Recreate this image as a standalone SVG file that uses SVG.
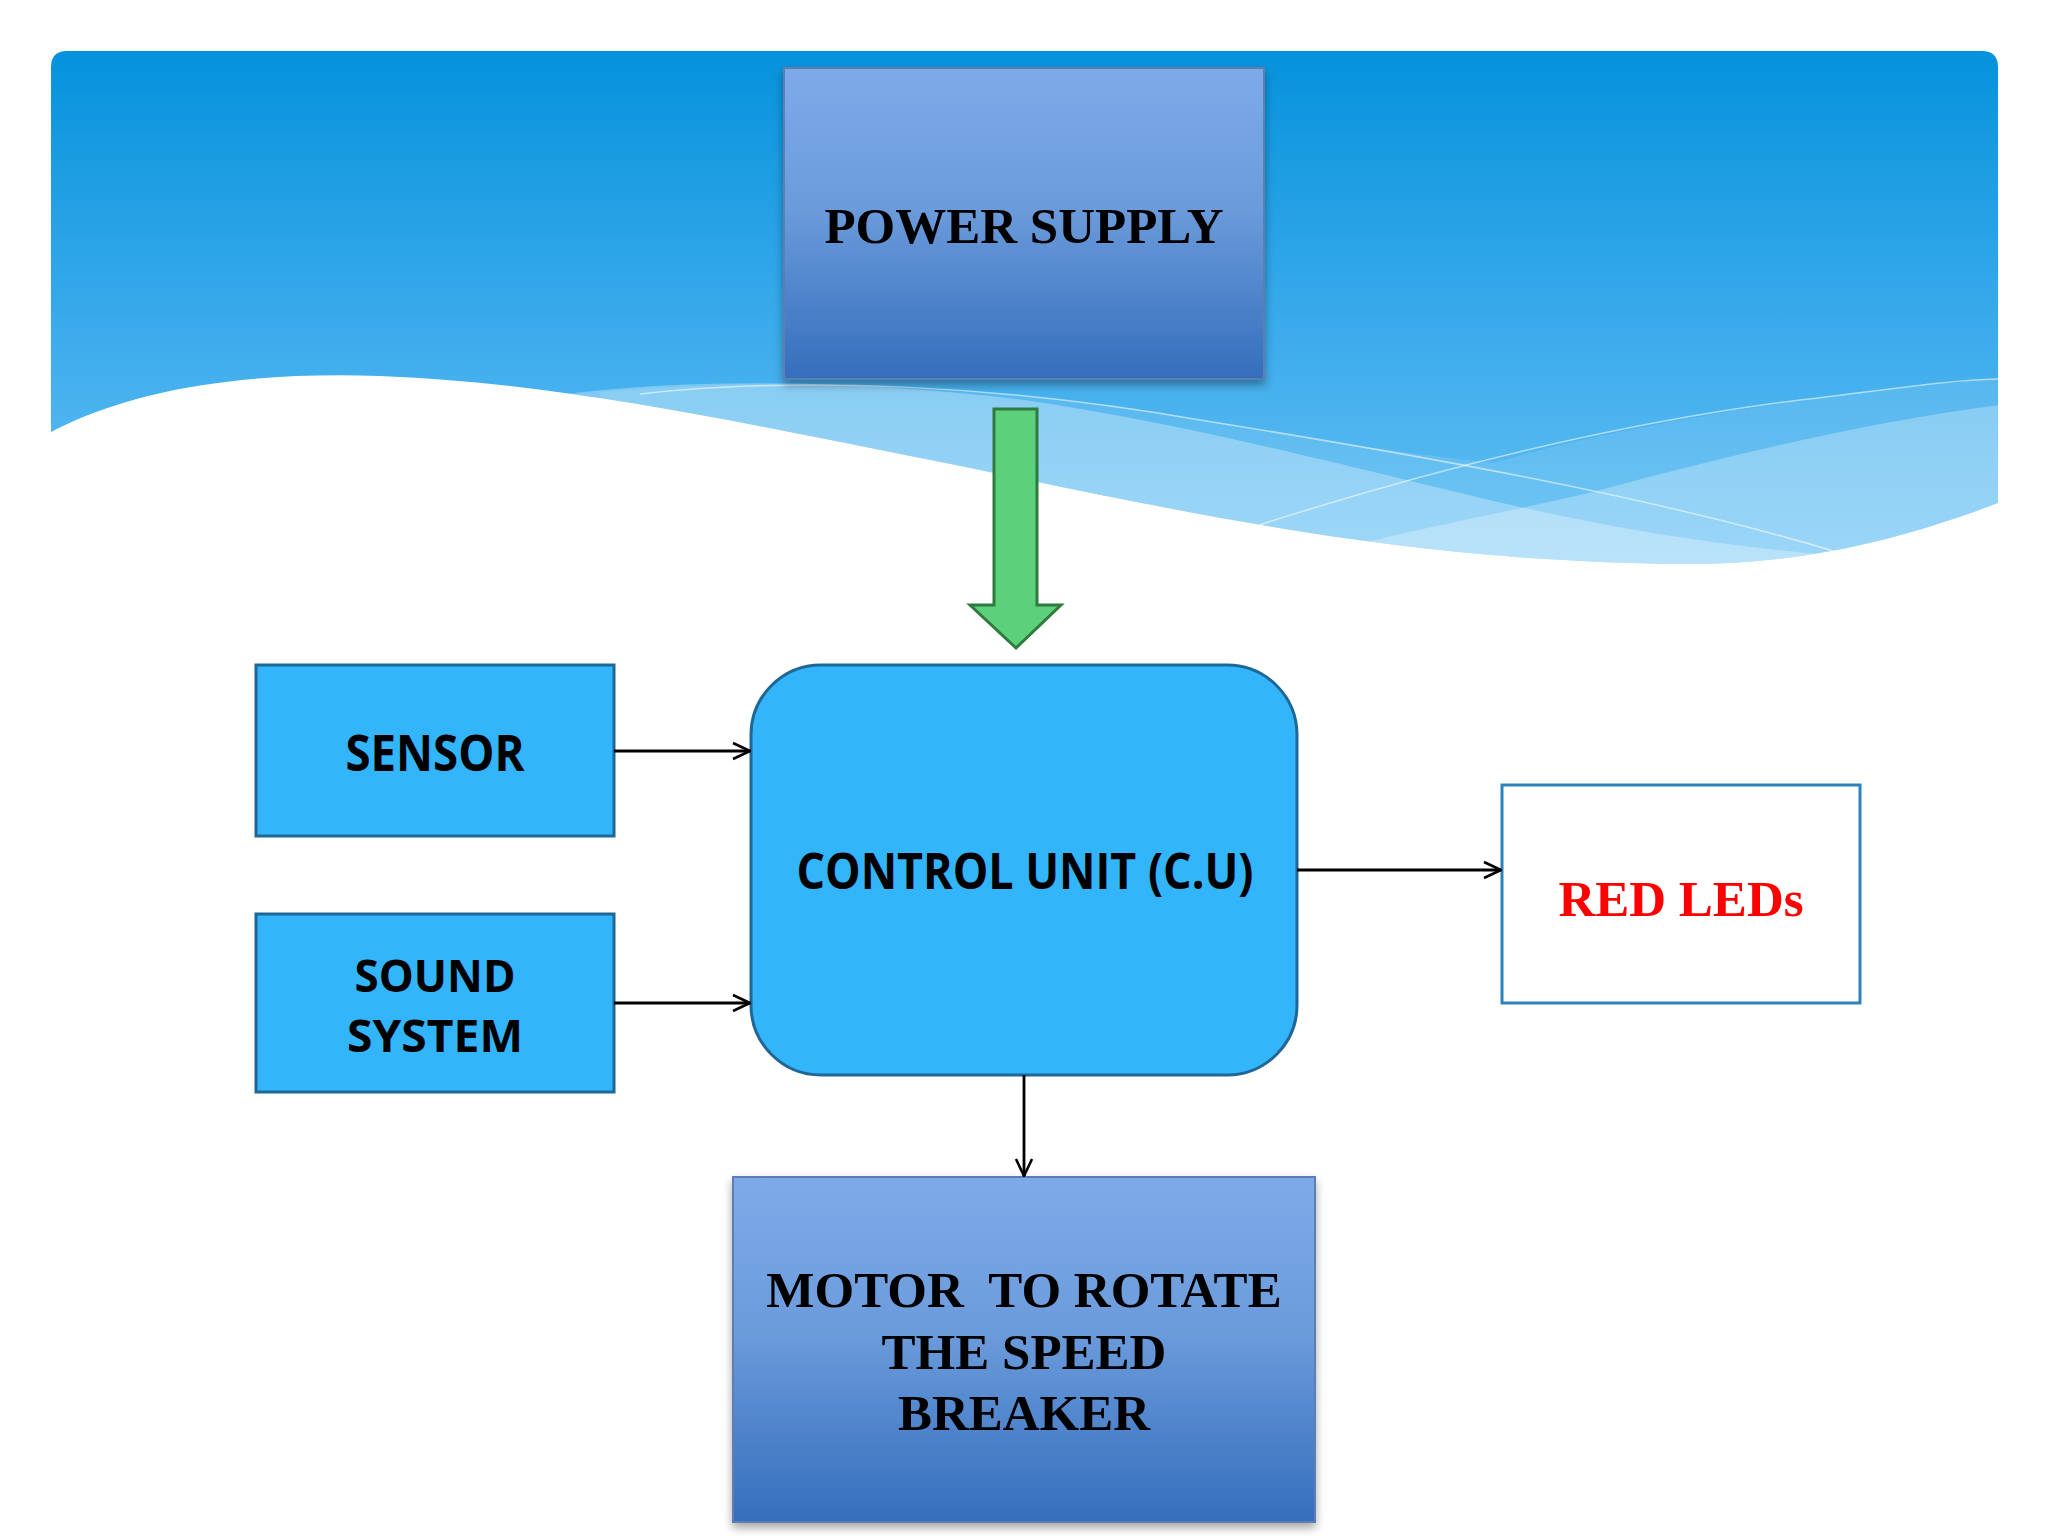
<svg xmlns="http://www.w3.org/2000/svg" width="2048" height="1536" viewBox="0 0 2048 1536">
  <defs>
    <linearGradient id="sky" x1="0" y1="51" x2="0" y2="565" gradientUnits="userSpaceOnUse">
      <stop offset="0" stop-color="#0592dc"/>
      <stop offset="0.5" stop-color="#37a9eb"/>
      <stop offset="1" stop-color="#66c1f4"/>
    </linearGradient>
    <linearGradient id="boxgrad" x1="0" y1="0" x2="0" y2="1">
      <stop offset="0" stop-color="#7eaae9"/>
      <stop offset="0.45" stop-color="#6b9bdb"/>
      <stop offset="1" stop-color="#356ebd"/>
    </linearGradient>
    <clipPath id="bannerClip">
      <path d="M67,51 L1982,51 Q1998,51 1998,67 L1998,503 C1900,540 1800,566 1672,564 C1400,560 1200,515 980,470 C760,426 560,382 379,376 C260,372 140,385 51,432 L51,67 Q51,51 67,51 Z"/>
    </clipPath>
    <filter id="shadow" x="-10%" y="-10%" width="120%" height="125%">
      <feDropShadow dx="0" dy="5" stdDeviation="5" flood-color="#000" flood-opacity="0.35"/>
    </filter>
    <marker id="open" viewBox="0 0 20 20" refX="19" refY="10" markerWidth="20" markerHeight="20" markerUnits="userSpaceOnUse" orient="auto">
      <path d="M2,2 L19,10 L2,18" fill="none" stroke="#000" stroke-width="2.6"/>
    </marker>
    <style>
      .wire { fill: none; stroke: #000; stroke-width: 2.8; marker-end: url(#open); }
      .blk { fill: #33b5fc; stroke: #1f6796; stroke-width: 3; }
      .grad { fill: url(#boxgrad); stroke: #5b7fb3; stroke-width: 2; filter: url(#shadow); }
      .sans { font-family: "Open Sans", "Noto Sans", sans-serif; font-weight: 700; font-size: 50px; fill: #000; text-anchor: middle; }
      .sm { font-size: 44px; }
      .serif { font-family: "Liberation Serif", "Times New Roman", serif; font-weight: 700; font-size: 51px; fill: #000; text-anchor: middle; }
      .red { fill: #ff0000; }
      .thin { fill: none; stroke: #ffffff; stroke-opacity: 0.55; stroke-width: 1.5; }
    </style>
  </defs>

  <rect x="0" y="0" width="2048" height="1536" fill="#ffffff"/>

  <g id="background">
    <rect x="0" y="0" width="2048" height="1536" fill="url(#sky)" clip-path="url(#bannerClip)"/>
    <g clip-path="url(#bannerClip)">
      <path d="M600,392 C800,376 1000,385 1200,420 C1330,443 1420,455 1494,463 C1600,430 1800,395 2000,378 L2000,700 L600,700 Z" fill="#ffffff" fill-opacity="0.1"/>
      <path d="M560,395 C700,376 880,382 1024,400 C1200,425 1400,480 1533,510 C1650,535 1760,552 1900,560 L1900,700 L560,700 Z" fill="#ffffff" fill-opacity="0.3"/>
      <path d="M1300,560 C1400,530 1500,515 1600,490 C1750,450 1880,420 2000,405 L2000,700 L1300,700 Z" fill="#ffffff" fill-opacity="0.28"/>
      <path class="thin" d="M640,394 C800,376 1000,385 1200,420 C1400,452 1650,495 1840,553"/>
      <path class="thin" d="M1259,525 C1400,480 1600,425 1800,400 C1900,388 1950,380 1998,379"/>
    </g>
  </g>

  <g id="power-supply">
    <rect class="grad" x="784" y="68" width="480" height="311"/>
    <text class="serif" x="1024" y="243">POWER SUPPLY</text>
  </g>

  <g id="power-arrow">
    <path d="M994,409 L1037,409 L1037,605 L1061,605 L1016,648 L970,605 L994,605 Z" fill="#5cd07a" stroke="#2f7a3f" stroke-width="3" stroke-linejoin="miter"/>
  </g>

  <g id="sensor">
    <rect class="blk" x="256" y="665" width="358" height="171"/>
    <text class="sans" x="435" y="771" textLength="179" lengthAdjust="spacingAndGlyphs">SENSOR</text>
  </g>

  <g id="sound-system">
    <rect class="blk" x="256" y="914" width="358" height="178"/>
    <text class="sans sm" x="435" y="992" textLength="161" lengthAdjust="spacingAndGlyphs">SOUND</text>
    <text class="sans sm" x="435" y="1052" textLength="176" lengthAdjust="spacingAndGlyphs">SYSTEM</text>
  </g>

  <g id="control-unit">
    <rect class="blk" x="751" y="665" width="546" height="410" rx="70" ry="70"/>
    <text class="sans" x="1025" y="889" textLength="457" lengthAdjust="spacingAndGlyphs">CONTROL UNIT (C.U)</text>
  </g>

  <g id="red-leds">
    <rect x="1502" y="785" width="358" height="218" fill="#ffffff" stroke="#2a84bb" stroke-width="3"/>
    <text class="serif red" x="1681" y="916">RED LEDs</text>
  </g>

  <g id="motor">
    <rect class="grad" x="733" y="1177" width="582" height="345"/>
    <text class="serif" x="1024" y="1307" xml:space="preserve">MOTOR  TO ROTATE</text>
    <text class="serif" x="1024" y="1369">THE SPEED</text>
    <text class="serif" x="1024" y="1430">BREAKER</text>
  </g>

  <g id="connectors">
    <line class="wire" x1="614" y1="751" x2="750" y2="751"/>
    <line class="wire" x1="614" y1="1003" x2="750" y2="1003"/>
    <line class="wire" x1="1297" y1="870" x2="1501" y2="870"/>
    <line class="wire" x1="1024" y1="1075" x2="1024" y2="1176"/>
  </g>
</svg>
